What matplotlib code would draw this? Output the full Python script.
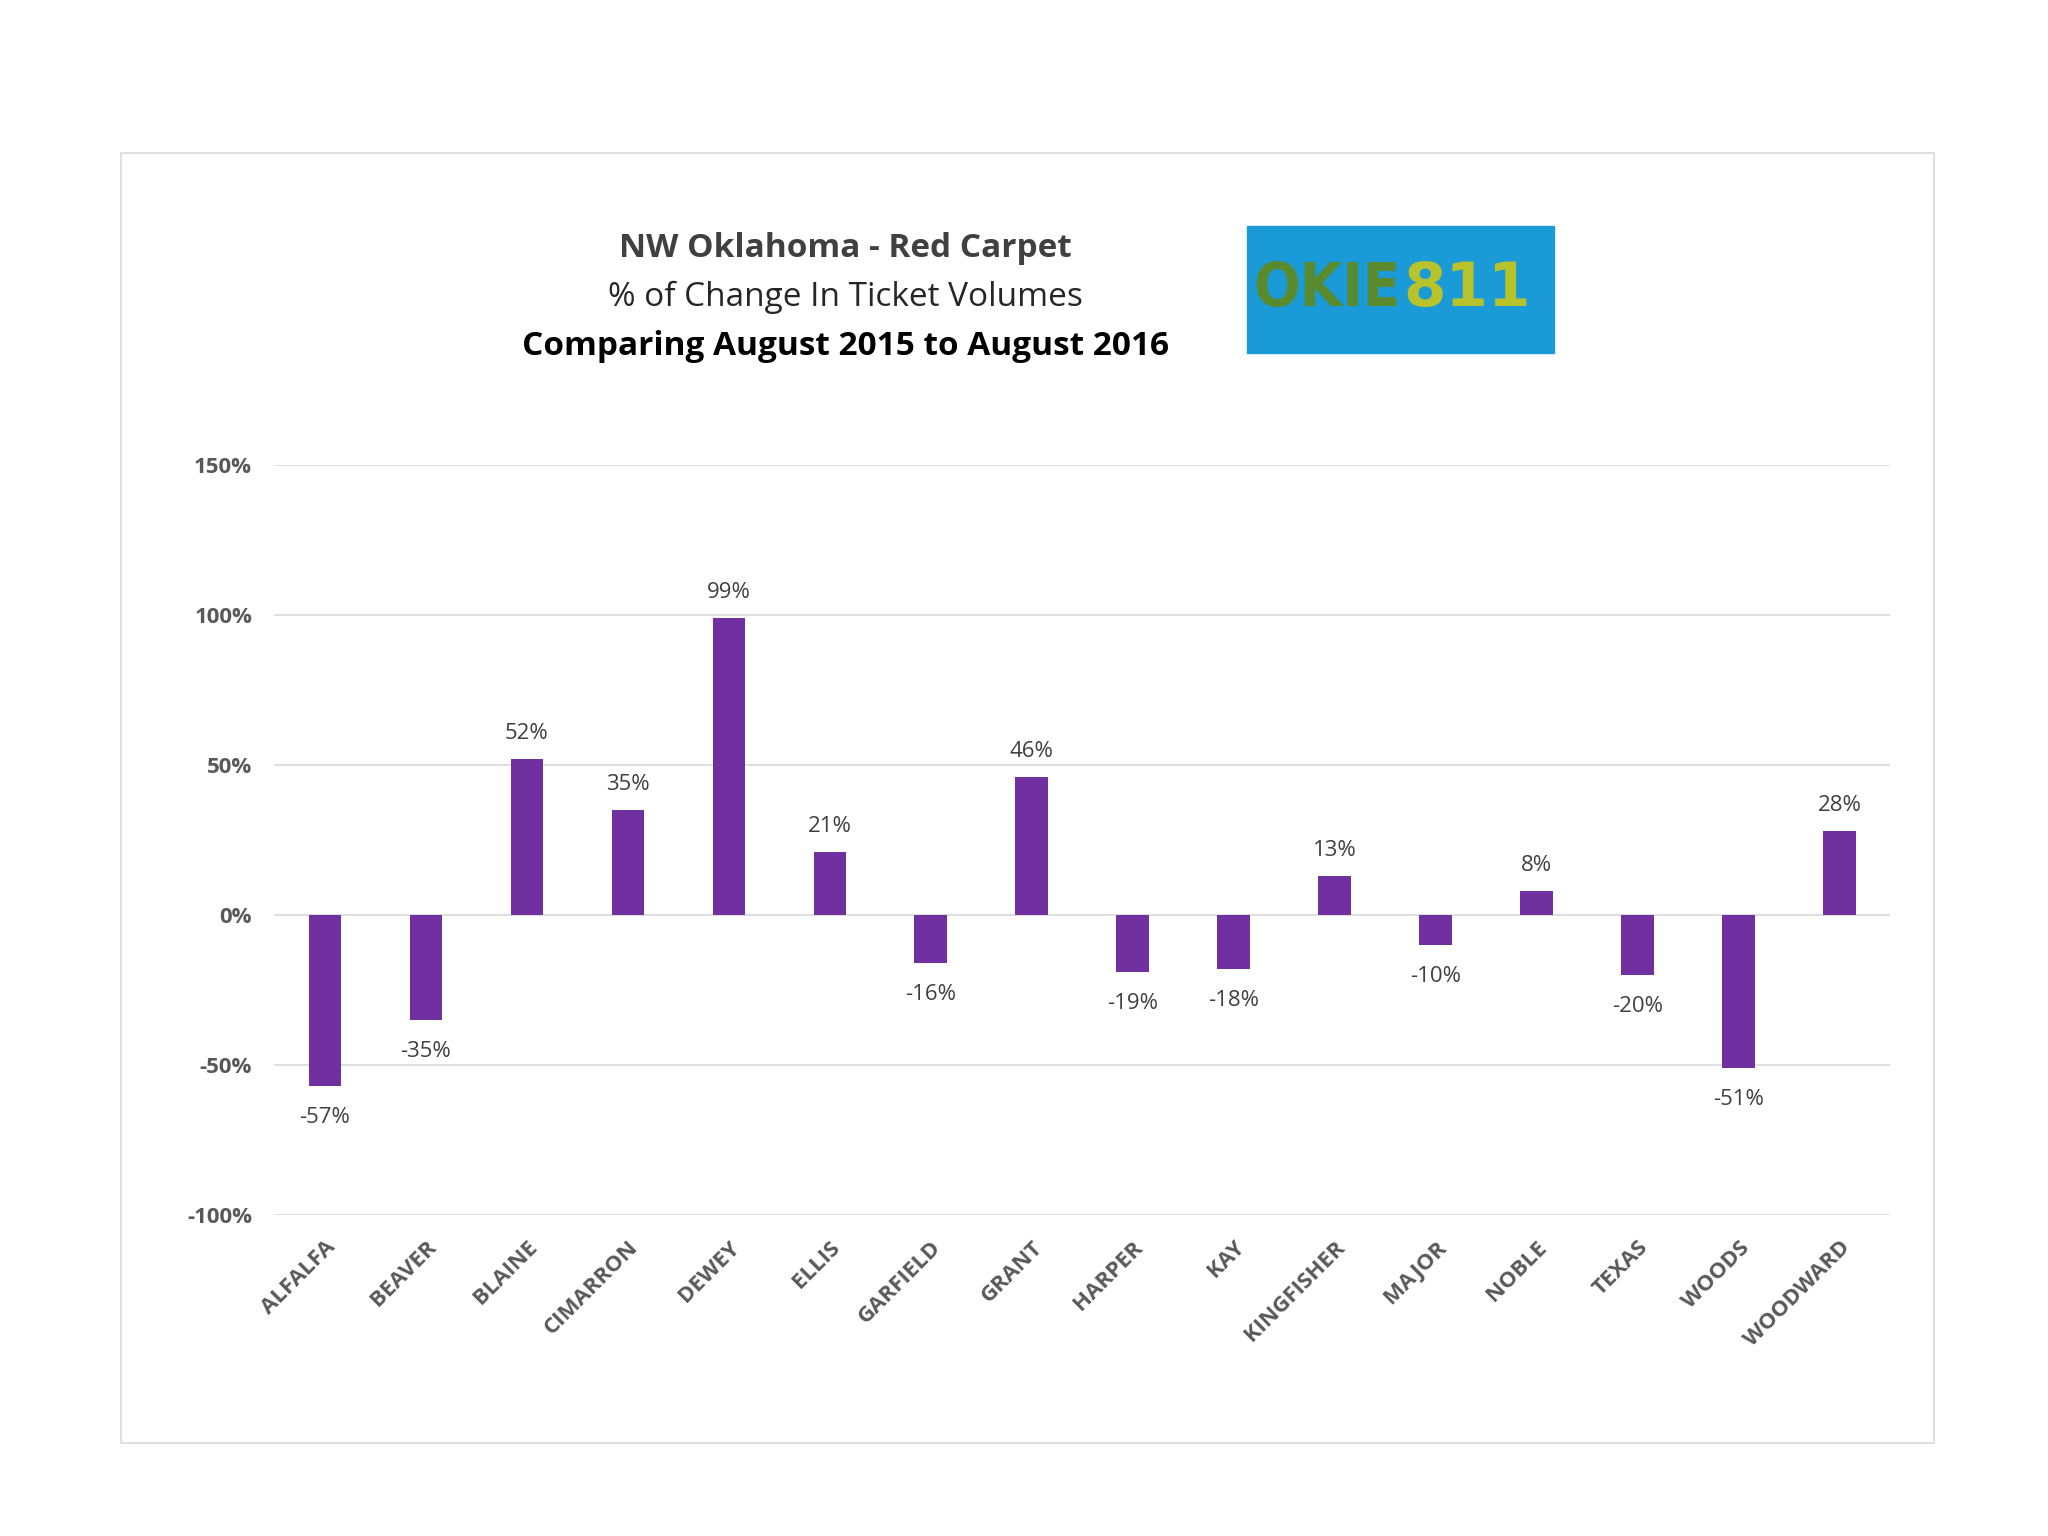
import matplotlib.pyplot as plt
from matplotlib.patches import Rectangle

counties = ["ALFALFA", "BEAVER", "BLAINE", "CIMARRON", "DEWEY", "ELLIS", "GARFIELD", "GRANT",
            "HARPER", "KAY", "KINGFISHER", "MAJOR", "NOBLE", "TEXAS", "WOODS", "WOODWARD"]
change = [-57, -35, 52, 35, 99, 21, -16, 46, -19, -18, 13, -10, 8, -20, -51, 28]
yticks = [-100, -50, 0, 50, 100, 150]

plt.rcParams['font.family'] = ['Open Sans', 'DejaVu Sans']
fig = plt.figure(figsize=(20.48, 15.36), dpi=100)

# chart border
fig.patches.append(Rectangle((93/1568, 1-1105/1176), (1481-93)/1568, (1105-117)/1176,
                             transform=fig.transFigure, fill=False, ec="#d9d9d9", lw=1.2))

ax = fig.add_axes([210/1568, 1-930/1176, (1447-210)/1568, (930-356)/1176])
x = range(len(counties))
ax.bar(x, change, width=0.32, color="#7030A0", zorder=3)
for i, v in enumerate(change):
    off = 5 if v >= 0 else -7
    ax.text(i, v + off, f"{v}%", ha="center", va="bottom" if v >= 0 else "top",
            fontsize=16, color="#404040")
ax.set_ylim(-100, 150)
ax.set_xlim(-0.5, len(counties) - 0.5)
ax.set_yticks(yticks)
ax.set_yticklabels([f"{t}%" for t in yticks], fontsize=16, fontweight="bold", color="#595959")
ax.set_xticks(list(x))
ax.set_xticklabels(counties, rotation=45, ha="right", rotation_mode="anchor",
                   fontsize=16, fontweight="bold", color="#595959")
ax.grid(axis="y", color="#d9d9d9", lw=1.2, zorder=0)
ax.tick_params(length=0, pad=16)
for s in ax.spines.values():
    s.set_visible(False)

fig.text(647/1568, 1-190/1176, "NW Oklahoma - Red Carpet", ha="center", va="center",
         fontsize=24, fontweight="bold", color="#404040")
fig.text(647/1568, 1-228/1176, "% of Change In Ticket Volumes", ha="center", va="center",
         fontsize=24, color="#262626")
fig.text(647/1568, 1-265/1176, "Comparing August 2015 to August 2016", ha="center", va="center",
         fontsize=24, fontweight="bold", color="black")

# simple logo
fig.patches.append(Rectangle((955/1568, 1-270/1176), (1190-955)/1568, (270-173)/1176,
                             transform=fig.transFigure, color="#1a9ad6"))
fig.text(1072/1568, 1-222/1176, "OKIE", ha="right", va="center", fontsize=44,
         fontweight="bold", color="#5a8a2e", family=["DejaVu Sans"], fontstretch="condensed")
fig.text(1074/1568, 1-222/1176, "811", ha="left", va="center", fontsize=44,
         fontweight="bold", color="#b8c22a", family=["DejaVu Sans"])

fig.savefig("out.png", dpi=100, facecolor="white")
